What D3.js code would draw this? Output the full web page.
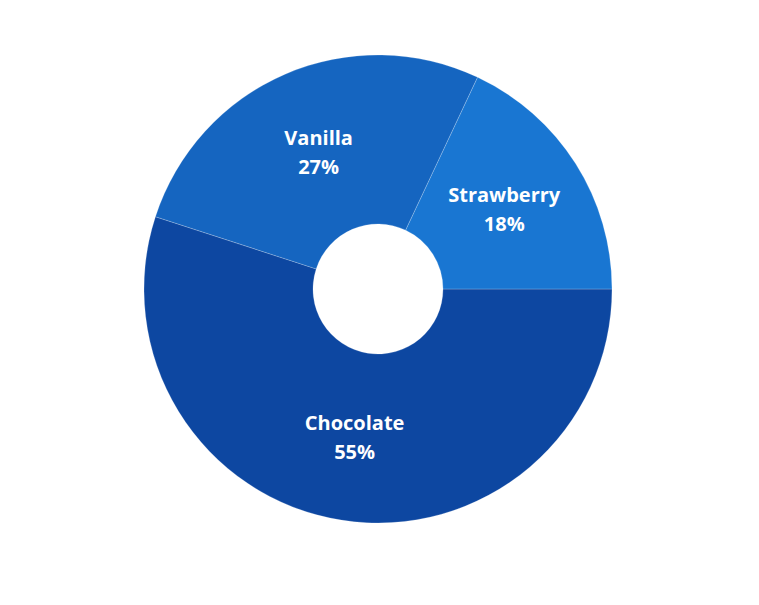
<!DOCTYPE html>
<html><head><meta charset="utf-8">
<script src="https://cdn.jsdelivr.net/npm/d3@7"></script>
<style>html,body{margin:0;padding:0;background:#fff;}</style>
</head><body>
<svg id="chart" width="759" height="605"></svg>
<script>
const categories = ["Chocolate", "Vanilla", "Strawberry"];
const values = [55, 27, 18];
const colors = ["#0D47A1", "#1565C0", "#1976D2"];

const svg = d3.select("#chart");
const cx = 378, cy = 289, outerR = 234, innerR = 65;
const g = svg.append("g").attr("transform", `translate(${cx},${cy})`);

const data = categories.map((c, i) => ({ name: c, value: values[i], color: colors[i] }));
const pie = d3.pie().value(d => d.value).sort(null)
  .startAngle(Math.PI / 2).endAngle(Math.PI / 2 + 2 * Math.PI);
const arcs = pie(data);
const arc = d3.arc().innerRadius(innerR).outerRadius(outerR);

g.selectAll("path").data(arcs).join("path")
  .attr("d", arc)
  .attr("fill", d => d.data.color)
  .attr("stroke", "rgba(255,255,255,0.35)")
  .attr("stroke-width", 0.6);

const total = d3.sum(values);
const labels = g.selectAll("text.lbl").data(arcs).join("text")
  .attr("class", "lbl")
  .attr("transform", d => `translate(${arc.centroid(d)})`)
  .attr("text-anchor", "middle")
  .attr("fill", "#fff")
  .style("font-family", "'Open Sans', sans-serif")
  .style("font-weight", "bold")
  .style("font-size", "20px");
labels.append("tspan").attr("x", 0).attr("y", -6.5).text(d => d.data.name);
labels.append("tspan").attr("x", 0).attr("y", 22).text(d => Math.round(d.data.value / total * 100) + "%");
</script>
</body></html>
